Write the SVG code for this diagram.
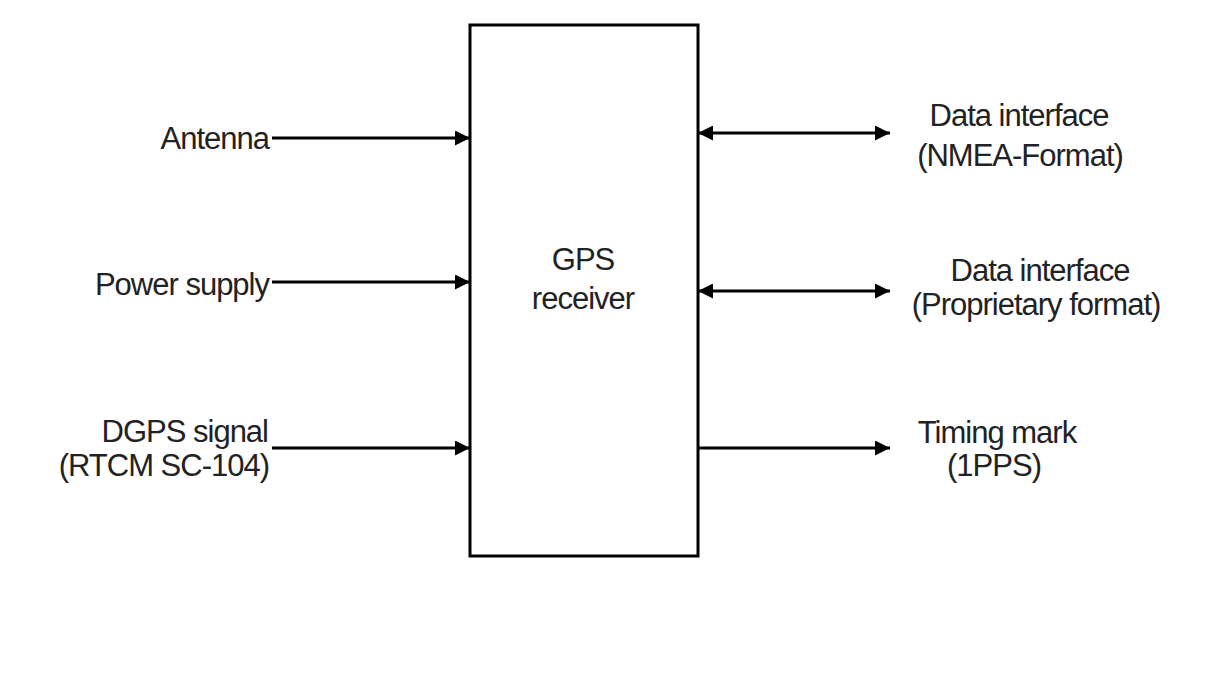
<svg xmlns="http://www.w3.org/2000/svg" width="1226" height="679" viewBox="0 0 1226 679">
<style>
text{font-family:"Liberation Sans",Arial,sans-serif;font-size:31px;fill:#222;letter-spacing:-1px}
.c{stroke:#000;stroke-width:3;fill:none}
</style>
<defs>
<marker id="ah" viewBox="0 0 10 10" refX="10" refY="5" markerWidth="5" markerHeight="5" orient="auto-start-reverse" markerUnits="strokeWidth"><path d="M0,0L10,5L0,10z" fill="#000"/></marker>
</defs>
<rect width="1226" height="679" fill="#fff"/>
<g id="gps"><rect x="470" y="25" width="228" height="531" fill="#fff" stroke="#000" stroke-width="3"/>
<text x="583" y="270" text-anchor="middle">GPS</text><text x="583" y="309" text-anchor="middle">receiver</text></g>
<g id="antenna"><text x="269" y="149" text-anchor="end">Antenna</text></g>
<g id="power"><text x="269" y="295" text-anchor="end">Power supply</text></g>
<g id="dgps"><text x="268" y="442" text-anchor="end">DGPS signal</text><text x="269" y="476" text-anchor="end">(RTCM SC-104)</text></g>
<g id="nmea"><text x="1019" y="126" text-anchor="middle">Data interface</text><text x="1020" y="166" text-anchor="middle">(NMEA-Format)</text></g>
<g id="prop"><text x="1040" y="281" text-anchor="middle">Data interface</text><text x="1036" y="315" text-anchor="middle">(Proprietary format)</text></g>
<g id="timing"><text x="997" y="443" text-anchor="middle">Timing mark</text><text x="994" y="476" text-anchor="middle">(1PPS)</text></g>
<g id="connectors">
<line class="c" x1="272" y1="138" x2="470" y2="138" marker-end="url(#ah)"/>
<line class="c" x1="272" y1="282" x2="470" y2="282" marker-end="url(#ah)"/>
<line class="c" x1="272" y1="448" x2="470" y2="448" marker-end="url(#ah)"/>
<line class="c" x1="698" y1="133" x2="890" y2="133" marker-start="url(#ah)" marker-end="url(#ah)"/>
<line class="c" x1="698" y1="291" x2="890" y2="291" marker-start="url(#ah)" marker-end="url(#ah)"/>
<line class="c" x1="698" y1="448" x2="890" y2="448" marker-end="url(#ah)"/>
</g>
</svg>
